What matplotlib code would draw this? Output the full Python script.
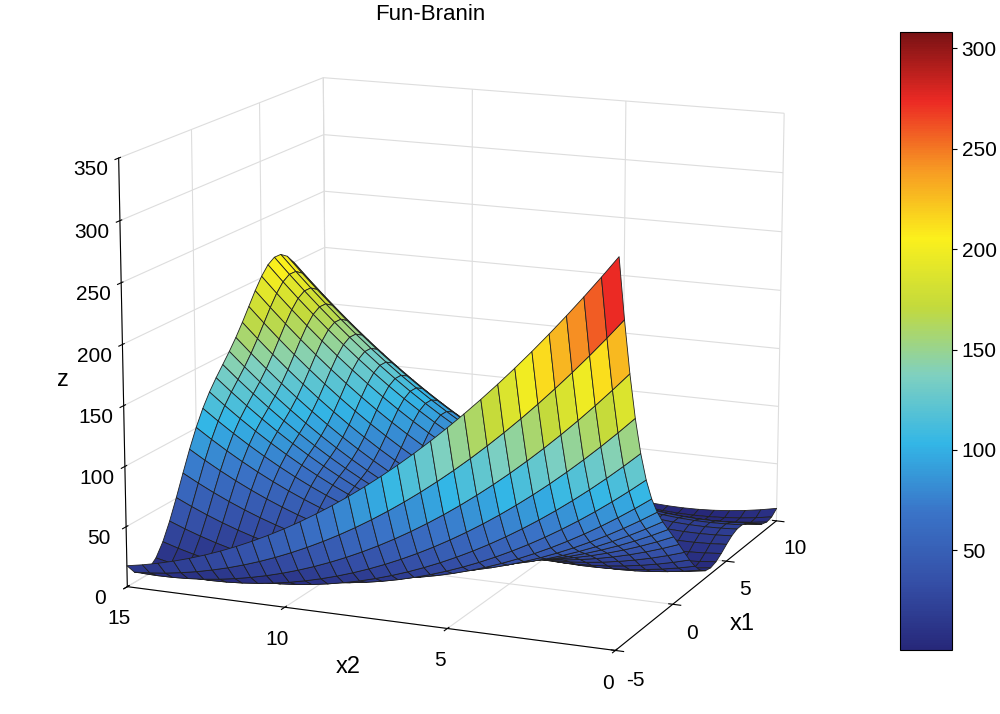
import numpy as np
import matplotlib
matplotlib.use("Agg")
import matplotlib.pyplot as plt
from matplotlib.colors import LinearSegmentedColormap

plt.rcParams["font.family"] = ["Liberation Sans", "DejaVu Sans"]
plt.rcParams["axes.unicode_minus"] = False

# grid of the Branin surface (x1 in [-5, 10], x2 in [0, 15])
x1_vals = np.linspace(-5, 10, 31)
x2_vals = np.linspace(0, 15, 31)
z_ticks = [0, 50, 100, 150, 200, 250, 300, 350]
x1_ticks = [-5, 0, 5, 10]
x2_ticks = [0, 5, 10, 15]
cbar_ticks = [50, 100, 150, 200, 250, 300]

X1, X2 = np.meshgrid(x1_vals, x2_vals)
a, b, c = 1.0, 5.1 / (4 * np.pi ** 2), 5 / np.pi
r, s, t = 6.0, 10.0, 1 / (8 * np.pi)
Z = a * (X2 - b * X1 ** 2 + c * X1 - r) ** 2 + s * (1 - t) * np.cos(X1) + s

cmap = LinearSegmentedColormap.from_list("mjet", [
    "#27287a", "#3550a8", "#3a74c8", "#33b6e6", "#7fd0c0",
    "#c3da3c", "#fbf01c", "#f79a23", "#ec2a24", "#7a1214"])

fig = plt.figure(figsize=(10, 7.14), dpi=100)
ax = fig.add_axes([-0.02, -0.04, 0.94, 1.08], projection="3d")
surf = ax.plot_surface(X1, X2, Z, cmap=cmap, edgecolor="#202020", linewidth=0.6,
                       vmin=Z.min(), vmax=Z.max(), antialiased=True, shade=False)
ax.view_init(elev=14, azim=-157)
ax.set_box_aspect((1, 1.1, 0.92), zoom=1.03)
ax.set_xlim(-5, 10)
ax.set_ylim(0, 15)
ax.set_zlim(0, 350)
ax.set_xticks(x1_ticks)
ax.set_yticks(x2_ticks)
ax.set_zticks(z_ticks)
ax.set_xlabel("x1", fontsize=17)
ax.set_ylabel("x2", fontsize=17)
ax.set_zlabel("z", fontsize=17)
ax.tick_params(labelsize=15)
for axis in (ax.xaxis, ax.yaxis, ax.zaxis):
    axis.set_pane_color((1, 1, 1, 0))
    axis._axinfo["grid"]["color"] = "#dddddd"
fig.text(0.43, 0.98, "Fun-Branin", fontsize=16, ha="center", va="center")

cax = fig.add_axes([0.9, 0.09, 0.052, 0.865])
cb = fig.colorbar(surf, cax=cax, ticks=cbar_ticks)
cb.ax.tick_params(labelsize=15)

fig.savefig("out.png", dpi=100)
